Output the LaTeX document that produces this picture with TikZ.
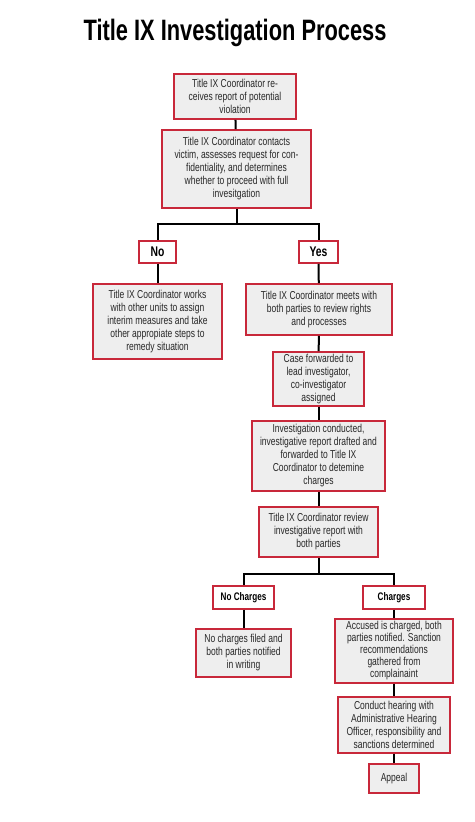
\documentclass[tikz,border=0pt]{standalone}
\usepackage{fontspec}
\setmainfont{Liberation Sans}[FakeStretch=0.74]
\usepackage{tikz}
\definecolor{boxred}{RGB}{200,40,58}
\definecolor{boxgrey}{RGB}{238,238,238}
\definecolor{inktext}{RGB}{40,40,40}
\tikzset{
  stepbox/.style={draw=boxred, fill=boxgrey, line width=1.8pt, align=center,
    text=inktext, font=\fontsize{11.5}{13}\selectfont, inner sep=1pt},
  choice/.style={draw=boxred, fill=white, line width=1.8pt, align=center,
    font=\bfseries\fontsize{14}{16}\selectfont, inner sep=1pt},
  link/.style={draw=black, line width=2pt}
}

\begin{document}
\begin{tikzpicture}[x=1pt,y=-1pt]
\useasboundingbox (0,0) rectangle (474,822);

\node[font=\bfseries\fontsize{29.5}{32}\selectfont] (title) at (235,33) {Title IX Investigation Process};

% top of the process
\node[stepbox, minimum width=122pt, minimum height=45pt] (report) at (235,96.5)
  {Title IX Coordinator re-\\ceives report of potential\\violation};
\node[stepbox, minimum width=149pt, minimum height=78pt] (contact) at (236.5,169)
  {Title IX Coordinator contacts\\victim, assesses request for con-\\fidentiality, and determines\\whether to proceed with full\\invesitgation};

\node[choice, minimum width=37pt, minimum height=22pt] (no) at (157.5,252) {No};
\node[choice, minimum width=39pt, minimum height=22pt] (yes) at (318.5,252) {Yes};

% no branch
\node[stepbox, minimum width=129pt, minimum height=75pt] (interim) at (157.5,321.5)
  {Title IX Coordinator works\\with other units to assign\\interim measures and take\\other appropiate steps to\\remedy situation};

% yes branch
\node[stepbox, minimum width=146pt, minimum height=51pt] (meet) at (319,309.5)
  {Title IX Coordinator meets with\\both parties to review rights\\and processes};
\node[stepbox, minimum width=91pt, minimum height=54pt] (case) at (318.5,379)
  {Case forwarded to\\lead investigator,\\co-investigator\\assigned};
\node[stepbox, minimum width=133pt, minimum height=70pt] (invest) at (318.5,456)
  {Investigation conducted,\\investigative report drafted and\\forwarded to Title IX\\Coordinator to detemine\\charges};
\node[stepbox, minimum width=119pt, minimum height=50pt] (review) at (318.5,532)
  {Title IX Coordinator review\\investigative report with\\both parties};

\node[choice, font=\bfseries\fontsize{11}{13}\selectfont, minimum width=61pt, minimum height=23pt] (nocharge) at (243.5,597.5) {No Charges};
\node[choice, font=\bfseries\fontsize{11}{13}\selectfont, minimum width=62pt, minimum height=23pt] (charge) at (394,597.5) {Charges};

\node[stepbox, minimum width=95pt, minimum height=48pt] (filed) at (243.5,653)
  {No charges filed and\\both parties notified\\in writing};
\node[stepbox, font=\fontsize{11.5}{12}\selectfont, minimum width=118pt, minimum height=64pt] (accused) at (394,651)
  {Accused is charged, both\\parties notified. Sanction\\recommendations\\gathered from\\complainaint};
\node[stepbox, minimum width=112pt, minimum height=56pt] (hearing) at (394,725)
  {Conduct hearing with\\Administrative Hearing\\Officer, responsibility and\\sanctions determined};
\node[stepbox, minimum width=50pt, minimum height=29pt] (appeal) at (394,778.5) {Appeal};

% connectors
\coordinate (split1) at (236.5,224);
\coordinate (split2) at (318.5,574);

\draw[link] (report) -- (contact);
\draw[link] (contact) -- (split1);
\draw[link] (no.north) |- (split1) -| (yes.north);
\draw[link] (no) -- (interim);
\draw[link] (yes) -- (meet);
\draw[link] (meet) -- (case);
\draw[link] (case) -- (invest);
\draw[link] (invest) -- (review);
\draw[link] (review) -- (split2);
\draw[link] (nocharge.north) |- (split2) -| (charge.north);
\draw[link] (nocharge) -- (filed);
\draw[link] (charge) -- (accused);
\draw[link] (accused) -- (hearing);
\draw[link] (hearing) -- (appeal);

\end{tikzpicture}
\end{document}
